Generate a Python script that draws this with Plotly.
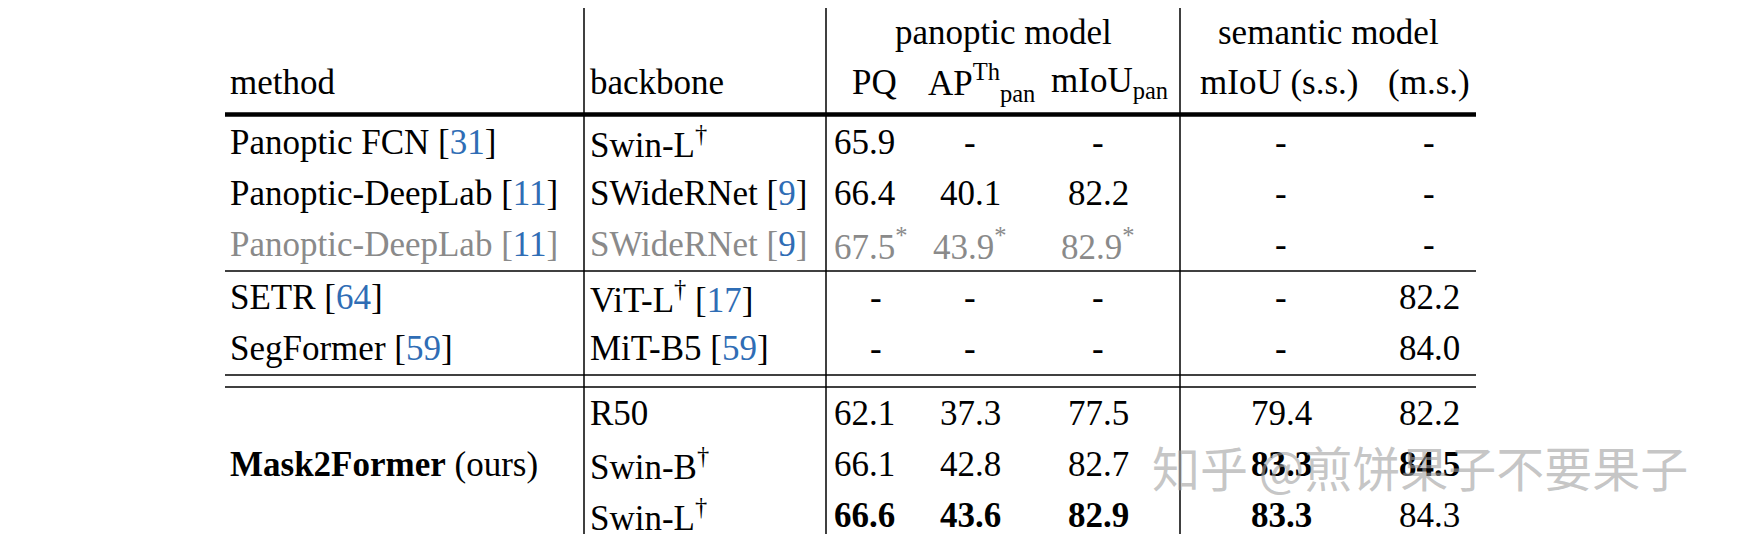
import plotly.graph_objects as go

W, H = 1746, 534
BLUE = "#2f6db5"
GRAY = "#8a8a8a"

# table content
methods = ["Panoptic FCN [31]", "Panoptic-DeepLab [11]", "Panoptic-DeepLab [11]",
           "SETR [64]", "SegFormer [59]", "", "Mask2Former (ours)", ""]
backbones = ["Swin-L†", "SWideRNet [9]", "SWideRNet [9]", "ViT-L† [17]",
             "MiT-B5 [59]", "R50", "Swin-B†", "Swin-L†"]
pq = ["65.9", "66.4", "67.5*", "-", "-", "62.1", "66.1", "66.6"]
ap_pan = ["-", "40.1", "43.9*", "-", "-", "37.3", "42.8", "43.6"]
miou_pan = ["-", "82.2", "82.9*", "-", "-", "77.5", "82.7", "82.9"]
miou_ss = ["-", "-", "-", "-", "-", "79.4", "83.3", "83.3"]
miou_ms = ["-", "-", "-", "82.2", "84.0", "82.2", "84.5", "84.3"]
gray_rows = [2]
bold_cells = {(7, "pq"), (7, "ap"), (7, "mp"), (6, "ss"), (7, "ss"), (6, "ms")}

row_y = [134, 185, 236, 289, 340, 405, 456, 507]
FONT = "Liberation Serif"
FS = 35


def fmt(txt):
    # blue citation numbers, superscript dagger / star
    out = ""
    i = 0
    while i < len(txt):
        c = txt[i]
        if c == "[":
            j = txt.index("]", i)
            out += "[<span style='color:%s'>%s</span>]" % (BLUE, txt[i + 1:j])
            i = j + 1
            continue
        if c == "†":
            out += "<sup>†</sup>"
        elif c == "*":
            out += "<sup>*</sup>"
        else:
            out += c
        i += 1
    return out


fig = go.Figure()
ann = []


def add(x, y, text, anchor="left", color="black", size=FS, bold=False):
    if bold:
        text = "<b>%s</b>" % text
    ann.append(dict(x=x, y=y, text=text, showarrow=False, xanchor=anchor,
                    yanchor="middle", font=dict(family=FONT, size=size, color=color)))


# headers
add(995, 24, "panoptic model", "center")
add(1320, 24, "semantic model", "center")
add(220, 74, "method")
add(580, 74, "backbone")
add(866, 74, "PQ", "center")
add(973, 74, "AP<sup>Th</sup><sub>pan</sub>", "center")
add(1101, 74, "mIoU<sub>pan</sub>", "center")
add(1271, 74, "mIoU (s.s.)", "center")
add(1421, 74, "(m.s.)", "center")

cols = [("pq", pq, 824, "left"), ("ap", ap_pan, 962, "center"),
        ("mp", miou_pan, 1090, "center"), ("ss", miou_ss, 1273, "center"),
        ("ms", miou_ms, 1421, "center")]

for r, y in enumerate(row_y):
    color = GRAY if r in gray_rows else "black"
    m = methods[r]
    if m.startswith("Mask2Former"):
        add(220, y, "<b>Mask2Former</b> (ours)")
    elif m:
        add(220, y, fmt(m), color=color)
    add(580, y, fmt(backbones[r]), color=color)
    for key, vals, x, anc in cols:
        v = vals[r]
        if v == "-":
            add(868 if key == "pq" else x, y, "-", "center")
        else:
            add(x, y, fmt(v), anc, color, bold=(r, key) in bold_cells)

# watermark
ann.append(dict(x=1412, y=458, text="知乎 @煎饼果子不要果子", showarrow=False,
                xanchor="center", yanchor="middle",
                font=dict(family="Noto Sans CJK SC", size=48, color="rgba(160,160,160,0.6)")))

shapes = []


def hline(y, w=1.5, x0=217, x1=1468):
    shapes.append(dict(type="line", x0=x0, x1=x1, y0=y, y1=y, line=dict(color="black", width=w)))


def vline(x, y0=0, y1=534):
    shapes.append(dict(type="line", x0=x, x1=x, y0=y0, y1=y1, line=dict(color="black", width=1.5)))


hline(106.5, 4.5)
hline(263)
hline(367)
hline(379)
vline(576)
vline(818)
vline(1172)

fig.update_layout(width=W, height=H, margin=dict(l=0, r=0, t=0, b=0),
                  plot_bgcolor="white", paper_bgcolor="white",
                  annotations=ann, shapes=shapes, showlegend=False)
fig.update_xaxes(range=[0, W], visible=False)
fig.update_yaxes(range=[H, 0], visible=False)
fig.write_html("out.html")
